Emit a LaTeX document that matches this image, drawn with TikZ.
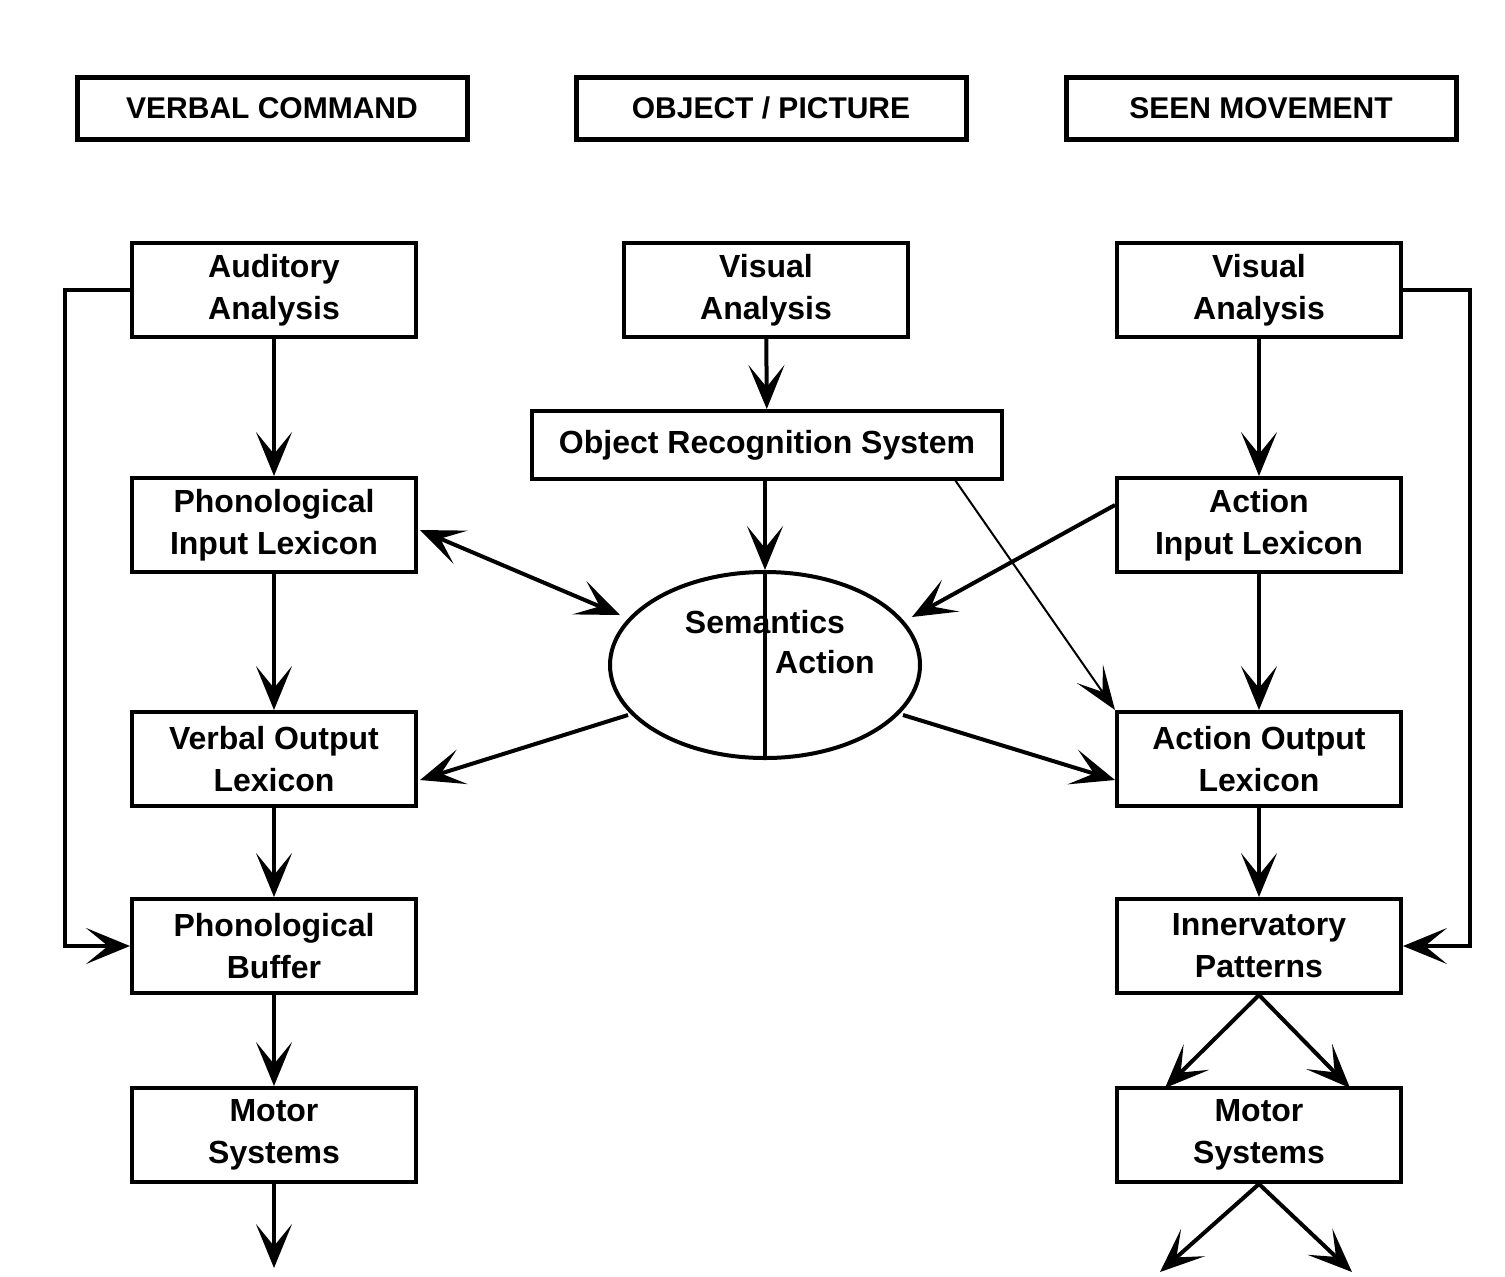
\documentclass[tikz,border=0pt]{standalone}
\usepackage{fontspec}
\setmainfont{Liberation Sans}
\usetikzlibrary{arrows.meta,shapes.geometric}
\begin{document}
\begin{tikzpicture}[x=0.5pt,y=-0.5pt,
  box/.style={draw,line width=2pt,inner sep=0pt,align=center,font=\bfseries\fontsize{16}{21}\selectfont},
  title/.style={draw,line width=2.5pt,inner sep=0pt,font=\bfseries\fontsize{15}{18}\selectfont},
  ar/.style={line width=2pt,-{Stealth[length=22pt,width=18pt,inset=11pt]}},
  thin/.style={line width=1pt,-{Stealth[length=22pt,width=16pt,inset=11pt]}}]
\useasboundingbox (0,0) rectangle (1505,1276);
% titles
\node[title,minimum width=195pt,minimum height=31pt] (t1) at (272,108) {VERBAL COMMAND};
\node[title,minimum width=195pt,minimum height=31pt] (t2) at (771,108) {OBJECT / PICTURE};
\node[title,minimum width=195pt,minimum height=31pt] (t3) at (1261,108) {SEEN MOVEMENT};
% left column
\node[box,minimum width=142pt,minimum height=47pt] (aud) at (274,290) {Auditory\\Analysis};
\node[box,minimum width=142pt,minimum height=47pt] (pil) at (274,525) {Phonological\\Input Lexicon};
\node[box,minimum width=142pt,minimum height=47pt] (vol) at (274,759) {Verbal Output\\Lexicon};
\node[box,minimum width=142pt,minimum height=47pt] (pb) at (274,946) {Phonological\\Buffer};
\node[box,minimum width=142pt,minimum height=47pt] (ms1) at (274,1135) {Motor\\Systems};
% center
\node[box,minimum width=142pt,minimum height=47pt] (va) at (766,290) {Visual\\Analysis};
\node[box,minimum width=235pt,minimum height=34pt] (ors) at (767,445) {Object Recognition System};
\node[draw,line width=2pt,ellipse,minimum width=155pt,minimum height=93pt,inner sep=0pt] (sem) at (765,665) {};
\draw[line width=2pt] (sem.north) -- (sem.south);
\node[font=\bfseries\fontsize{16}{21}\selectfont] (semt) at (765,622) {Semantics};
\node[font=\bfseries\fontsize{16}{21}\selectfont] (act) at (825,662) {Action};
% right column
\node[box,minimum width=142pt,minimum height=47pt] (va2) at (1259,290) {Visual\\Analysis};
\node[box,minimum width=142pt,minimum height=47pt] (ail) at (1259,525) {Action\\Input Lexicon};
\node[box,minimum width=142pt,minimum height=47pt] (aol) at (1259,759) {Action Output\\Lexicon};
\node[box,minimum width=142pt,minimum height=47pt] (ip) at (1259,946) {Innervatory\\Patterns};
\node[box,minimum width=142pt,minimum height=47pt] (ms2) at (1259,1135) {Motor\\Systems};
% coordinates
\coordinate (e1) at (274,1268);
\coordinate (e2) at (1160,1272);
\coordinate (e3) at (1352,1272);
% left arrows
\draw[ar] (aud) -- (pil);
\draw[ar] (pil) -- (vol);
\draw[ar] (vol) -- (pb);
\draw[ar] (pb) -- (ms1);
\draw[ar] (ms1) -- (e1);
\draw[ar] (aud.west) -- (65,290) -- (65,946) -- (pb.west);
% center arrows
\draw[ar] (va) -- (ors);
\draw[ar] (ors.south -| sem.north) -- (sem.north);
\draw[thin] (955,480) -- (aol.north west);
\draw[line width=2pt,{Stealth[length=22pt,width=18pt,inset=11pt]}-{Stealth[length=22pt,width=18pt,inset=11pt]}] (420,530) -- (620,615);
\draw[ar] (ail.west |- 0,505) -- (912,617);
\draw[ar] (628,715) -- (420,780);
\draw[ar] (903,715) -- (1115,780);
% right arrows
\draw[ar] (va2) -- (ail);
\draw[ar] (ail) -- (aol);
\draw[ar] (aol) -- (ip);
\draw[ar] (va2.east) -- (1470,290) -- (1470,946) -- (ip.east);
\draw[ar] (ip.south) -- (1165,1088);
\draw[ar] (ip.south) -- (1350,1088);
\draw[ar] (ms2.south) -- (e2);
\draw[ar] (ms2.south) -- (e3);
\end{tikzpicture}
\end{document}
